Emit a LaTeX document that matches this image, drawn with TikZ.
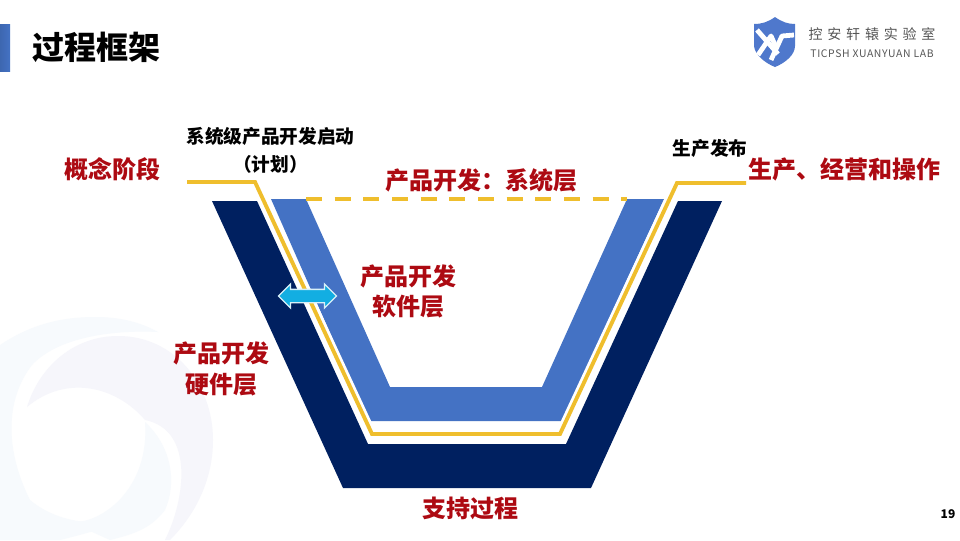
\documentclass[tikz,border=0pt]{standalone}
\usepackage{fontspec}
\setmainfont{Noto Sans CJK SC}
\usetikzlibrary{shapes.arrows}
\definecolor{navy}{HTML}{002060}
\definecolor{midblue}{HTML}{4472C4}
\definecolor{gold}{HTML}{EFBE2D}
\definecolor{darkred}{HTML}{AD0A12}
\definecolor{swirlA}{HTML}{F7FAFD}
\definecolor{swirlB}{HTML}{F6F6FB}
\definecolor{logoblue}{HTML}{4F78CC}
\definecolor{logotext}{HTML}{555555}
\definecolor{arrowfill}{HTML}{12AEE2}
\definecolor{arrowedge}{HTML}{D8F0F8}
\tikzset{
 x=0.75pt,y=-0.75pt,
 redlabel/.style={text=darkred,font=\fontsize{18}{23}\selectfont\bfseries,align=center,inner sep=0pt},
 blacklabel/.style={text=black,font=\fontsize{14}{21}\selectfont\bfseries,align=center,inner sep=0pt},
 goldline/.style={draw=gold,line width=2.9pt,line join=miter},
 halo/.style={draw=white,line width=7pt,line join=miter},
}
\begin{document}
\begin{tikzpicture}
\useasboundingbox (0,0) rectangle (960,540);
\fill[white] (0,0) rectangle (960,540);
% background swirl
\begin{scope}
\clip (0,0) rectangle (960,540);
\fill[swirlA] (0,345) .. controls (30,325) and (60,317) .. (95,317) .. controls (120,317) and (140,322) .. (158,332)
  .. controls (120,330) and (60,335) .. (32,365) .. controls (5,400) and (5,450) .. (30,500)
  .. controls (60,525) and (100,525) .. (125,520) .. controls (100,530) and (80,535) .. (60,540) -- (0,540) -- cycle;
\fill[swirlB] (27,407) .. controls (40,365) and (75,336) .. (118,336) .. controls (175,336) and (213,385) .. (213,440)
  .. controls (213,480) and (195,515) .. (170,540) -- (165,540) .. controls (185,500) and (195,430) .. (145,420)
  .. controls (115,385) and (65,375) .. cycle;
\fill[swirlA] (145,422) .. controls (170,445) and (178,480) .. (165,510) .. controls (150,530) and (130,535) .. (110,540)
  -- (70,522) .. controls (100,525) and (150,490) .. cycle;
\end{scope}
% title bar and title
\fill[left color=midblue!90!black,right color=midblue] (0,24) rectangle (10,71);
\node[text=black,font=\fontsize{24}{28}\selectfont\bfseries,inner sep=0pt] (title) at (96.5,47) {过程框架};
% logo
\fill[logoblue] (775,17) .. controls (768,22) and (762,24) .. (754,24) -- (754,46) .. controls (755,55) and (765,63) .. (775,67)
  .. controls (785,63) and (795,55) .. (795,46) -- (795,24) .. controls (788,24) and (782,22) .. cycle;
\draw[white,line width=3.6pt] (757,30) -- (778,54);
\draw[white,line width=3.6pt,line join=round] (758,55) -- (771,36) -- (776,47);
\draw[white,line width=3.6pt,line join=round] (794,35) -- (782,36) -- (771,60);
% logo text
\node[text=logotext,font=\fontsize{10.5}{12}\selectfont,inner sep=0pt] (logocn) at (872,34)
  {控\hspace{3.6pt}安\hspace{3.6pt}轩\hspace{3.6pt}辕\hspace{3.6pt}实\hspace{3.6pt}验\hspace{3.6pt}室};
\node[text=logotext,font=\fontsize{7.8}{10}\selectfont,inner sep=0pt] (logoen) at (872,53.5)
  {\addfontfeatures{LetterSpace=6}TICPSH XUANYUAN LAB};
% layers
\fill[navy] (212,201) -- (257,201) -- (368,444) -- (566,444) -- (678,201) -- (722,201) -- (591,488) -- (343,488) -- cycle;
\fill[midblue] (271,199) -- (306,199) -- (390,387) -- (542,387) -- (627,199) -- (664,199) -- (562,421) -- (369,421) -- cycle;
% gold line with white halo
\coordinate (g1) at (187,182);
\coordinate (g2) at (255,182);
\coordinate (g3) at (372,434);
\coordinate (g4) at (560,434);
\coordinate (g5) at (677,183);
\coordinate (g6) at (746,183);
\draw[halo] (g2) -- (g3) -- (g4) -- (g5);
\draw[goldline] (g1) -- (g2) -- (g3) -- (g4) -- (g5) -- (g6);
\coordinate (d1) at (306,199);
\coordinate (d2) at (627,199);
\draw[gold,line width=2.9pt,dash pattern=on 12pt off 9.5pt] (d1) -- (d2);
% double arrow
\node[double arrow,draw=arrowedge,line width=1pt,fill=arrowfill,
  double arrow head extend=4pt,minimum width=17pt,minimum height=43.5pt,inner sep=0pt,text height=9pt,text depth=0pt,text width=0pt] (arrow) at (307.5,296) {};
% labels
\node[redlabel] (concept) at (112,169) {概念阶段};
\node[blacklabel] (start) at (270.5,150.5) {系统级产品开发启动\\（计划）};
\node[redlabel] (system) at (481.5,180) {产品开发：系统层};
\node[blacklabel] (release) at (710,148) {生产发布};
\node[redlabel] (ops) at (844.5,169) {生产、经营和操作};
\node[redlabel] (soft) at (408,291.5) {产品开发\\软件层};
\node[redlabel] (hard) at (221,369) {产品开发\\硬件层};
\node[redlabel] (support) at (470,508.5) {支持过程};
\node[text=black,font=\fontsize{9}{11}\selectfont\bfseries,inner sep=0pt] (page) at (948,514) {19};
\end{tikzpicture}
\end{document}
